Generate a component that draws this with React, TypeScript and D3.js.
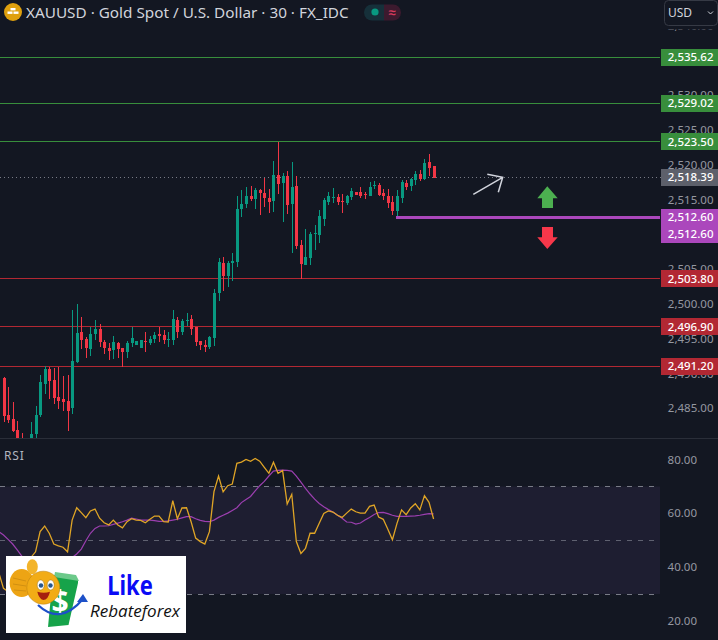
import React from "react";
import * as d3 from "d3";

const opens = [2489.57,2484.25,2483.68,2482.10,2480.51,2477.16,2479.56,2481.52,2484.25,2488.71,2490.87,2489.28,2486.84,2486.55,2486.26,2485.26,2491.87,2496.18,2495.18,2493.74,2495.90,2496.62,2494.75,2493.88,2493.60,2494.60,2493.88,2493.31,2494.60,2494.32,2493.88,2494.89,2494.60,2495.18,2495.90,2495.75,2495.03,2495.03,2497.91,2496.18,2497.77,2498.05,2496.86,2494.89,2494.32,2494.03,2495.32,2501.79,2506.10,2504.23,2506.10,2506.25,2513.87,2514.59,2515.74,2515.30,2516.60,2516.17,2515.45,2515.02,2518.75,2517.60,2518.61,2514.59,2517.17,2508.69,2505.82,2506.82,2510.27,2510.13,2512.43,2514.87,2515.45,2515.59,2515.02,2514.73,2515.59,2516.31,2516.31,2516.02,2515.74,2517.22,2517.32,2516.17,2515.74,2514.87,2513.58,2515.45,2517.60,2517.17,2518.04,2518.90,2518.18,2520.62,2520.05];
const closes = [2484.11,2483.53,2481.95,2479.80,2479.08,2479.08,2481.52,2484.25,2489.00,2490.87,2489.14,2486.70,2486.26,2486.12,2484.83,2492.02,2496.04,2495.03,2493.88,2495.90,2496.62,2494.75,2493.88,2493.45,2494.75,2493.74,2493.31,2494.60,2495.32,2494.89,2495.03,2494.70,2495.18,2495.75,2495.61,2495.03,2495.18,2498.05,2496.18,2497.77,2497.91,2496.62,2494.75,2494.32,2494.03,2495.47,2501.79,2506.25,2504.23,2506.10,2506.39,2513.87,2514.59,2515.74,2515.30,2516.60,2516.17,2515.45,2514.87,2518.75,2517.46,2518.61,2514.44,2517.03,2508.55,2505.96,2506.97,2510.27,2510.42,2512.86,2515.16,2515.74,2515.59,2514.87,2514.87,2515.74,2516.45,2515.88,2515.74,2515.93,2517.03,2517.32,2515.88,2515.74,2514.73,2513.58,2515.74,2517.75,2517.03,2518.18,2518.90,2518.18,2520.48,2519.76,2518.28];
const highs = [2489.71,2488.28,2486.12,2483.39,2481.66,2480.27,2483.25,2485.55,2490.00,2491.30,2491.15,2491.01,2491.15,2489.86,2490.00,2499.35,2500.21,2498.34,2495.47,2496.90,2497.91,2497.33,2495.03,2494.60,2495.61,2494.75,2493.88,2494.89,2496.90,2494.89,2495.03,2496.18,2495.61,2496.18,2496.90,2496.47,2496.18,2499.35,2498.34,2498.05,2498.92,2498.63,2496.90,2494.89,2495.03,2495.61,2502.37,2506.82,2506.97,2506.39,2507.54,2515.74,2516.60,2517.03,2517.17,2516.89,2516.74,2518.32,2516.74,2520.77,2523.45,2519.04,2519.33,2520.62,2518.61,2509.41,2510.99,2510.56,2511.57,2513.72,2515.45,2516.31,2516.89,2516.02,2516.02,2515.88,2516.89,2516.31,2517.03,2516.31,2517.75,2517.89,2517.60,2516.74,2516.74,2515.74,2516.60,2518.04,2518.04,2518.32,2519.33,2519.47,2521.05,2521.77,2520.05];
const lows = [2483.25,2483.10,2481.71,2479.08,2478.36,2476.68,2478.60,2480.51,2483.96,2487.27,2486.55,2485.83,2485.11,2484.83,2481.95,2484.40,2491.73,2493.74,2492.45,2492.73,2495.03,2494.03,2493.02,2492.16,2492.30,2492.45,2491.15,2492.45,2494.03,2494.32,2493.88,2493.31,2494.32,2494.60,2494.75,2494.46,2494.03,2494.32,2495.32,2495.75,2497.05,2495.75,2494.17,2493.60,2493.31,2493.74,2494.17,2500.64,2502.08,2502.65,2503.52,2505.53,2512.72,2514.01,2515.02,2513.87,2513.00,2514.15,2513.29,2513.44,2516.02,2512.00,2513.15,2507.54,2508.12,2503.76,2505.82,2505.82,2507.97,2508.98,2511.42,2514.44,2514.73,2514.44,2513.29,2514.44,2515.16,2515.88,2515.45,2515.30,2515.74,2516.74,2515.74,2515.16,2514.01,2513.00,2512.57,2514.73,2516.60,2516.45,2517.32,2517.89,2518.04,2518.61,2518.28];
const rsiValues = [37.7,32.1,30.9,34,32.7,34,37.7,43.6,45.7,53.2,55.3,52.6,48.6,47.9,47.4,45.7,57.5,62.1,60.3,58.4,60.9,61.6,58.2,56.5,55.7,57.5,55.7,54.6,56.9,58.0,57.5,57.4,56.5,57.8,59.0,59.0,56.9,56.8,64.7,58.0,62.0,62.1,56.9,50.8,49.5,48.6,53.2,68.1,73.9,68.0,70.3,70.9,78.6,79.1,80.1,79.4,80.4,79.4,77.1,74.9,79.0,74.9,75.9,63.5,67.1,49.5,45.1,47.0,52.6,52.6,56.3,60.0,60.9,60.5,59.3,58.5,60.1,61.6,60.6,60.1,60.1,62.6,63.1,58.6,57.8,54.1,50.2,56.3,61.3,59.5,62.0,63.6,61.3,66.6,64.1,57.9];
const rsiMa = [53.2,51.95,50.3,48.6,46.4,44.1,41.4,39.5,38.3,37.7,37.1,37.1,37.7,38.3,39.5,42.0,43.6,44.9,46.7,49.8,52.6,54.4,55.3,55.3,55.4,55.9,56.4,56.9,57.5,58.2,57.9,57.5,57.5,57.5,57.3,57.0,57.0,57.2,57.5,57.8,58.3,58.8,58.8,58.0,57.4,57.0,56.9,57.5,58.5,59.3,60.1,61.1,62.1,64.0,65.2,66.3,68.4,70.3,71.9,73.9,75.7,76.0,76.1,76.0,75.7,73.9,71.6,69.3,67.2,65.3,63.7,62.5,61.4,60.5,59.3,58.2,56.8,56.7,56.0,56.4,57.5,58.5,59.6,60.3,60.4,59.9,59.3,58.9,58.9,58.9,59.0,59.1,59.3,59.6,59.9,59.8];

const priceTicks = [2540, 2535, 2530, 2525, 2520, 2515, 2510, 2505, 2500, 2495, 2490, 2485];
const rsiTicks = [80, 60, 40, 20];
const rsiBands = [70, 50, 30];
const greenLevels = [2535.62, 2529.02, 2523.5];
const redLevels = [2503.8, 2496.9, 2491.2];
const lastPrice = 2518.39;
const pivotPrice = 2512.6;
const pivotStartIndex = 86;

const BG = "#131722", UP = "#089981", DOWN = "#f23645", GREEN = "#388e3c", RED = "#b22833", PURPLE = "#ab47bc";
const FONT = "'Noto Sans', sans-serif";
const fmt = d3.format(",.2f");

const x = d3.scaleLinear().domain([0, 94]).range([3.5, 433.6]);
const y = d3.scaleLinear().domain([2535.62, 2491.2]).range([57.3, 366.3]);
const yr = d3.scaleLinear().domain([70, 30]).range([486.5, 594]);
// RSI series carry one extra bar at their start, partly off the left edge.
const rsiLine = d3.line<number>().x((_, i) => x(i - 1)).y((v) => yr(v));

function PriceTag({ price, fill, dy = 0 }: { price: number; fill: string; dy?: number }) {
  const cy = y(price) + dy;
  return (
    <g>
      <rect x={661} y={cy - 8.2} width={57} height={16.6} fill={fill} shapeRendering="crispEdges" />
      <text x={713.5} y={cy - 0.5} textAnchor="end" dominantBaseline="central" fill="#fff" fontSize={11.5} fontWeight={500} fontFamily={FONT}>{fmt(price)}</text>
    </g>
  );
}

function Logo() {
  return (
    <g>
      <rect x={6} y={556} width={180} height={77} fill="#fff" />
      <polygon points="53,575 78,579 78,583 68.5,625 48,627" fill="#16a34a" />
      <polygon points="55,572 76,575 79,581 54,577" fill="#6cc98a" />
      <text x={60} y={612} textAnchor="middle" fontSize={30} fontWeight={700} fill="#fff" fontFamily={FONT}>$</text>
      <path d="M38,605 Q60,626 83,599" fill="none" stroke="#1d50c8" strokeWidth={2.2} />
      <polygon points="83,594 88,602 77,602" fill="#1d50c8" />
      <ellipse cx={21.7} cy={583} rx={12} ry={14} fill="#eda414" />
      <path d="M13,578 L26,581 M13,584 L26,586 M14,590 L26,591" stroke="#c98a10" strokeWidth={0.8} fill="none" />
      <ellipse cx={32.3} cy={566.7} rx={5.5} ry={7.5} fill="#f3b42a" />
      <circle cx={43.3} cy={587.7} r={16.5} fill="#f2ac16" stroke="#b97e10" strokeWidth={0.5} />
      <ellipse cx={40.7} cy={585} rx={3.5} ry={5} fill="#fff" stroke="#7a5a10" strokeWidth={0.4} />
      <ellipse cx={50.7} cy={585} rx={3.5} ry={5} fill="#fff" stroke="#7a5a10" strokeWidth={0.4} />
      <circle cx={41} cy={585.5} r={2.2} fill="#24578f" />
      <circle cx={50.5} cy={585.5} r={2.2} fill="#24578f" />
      <path d="M37.3,591.7 Q44,594 50,591.7 Q48,600 43.3,600 Q39,599 37.3,591.7 Z" fill="#a5200f" />
      <text x={107.3} y={595} fill="#0a0af5" fontSize={27} fontWeight={700} textLength={45.5} lengthAdjust="spacingAndGlyphs" fontFamily={FONT}>Like</text>
      <text x={90} y={616.7} fill="#111" fontSize={16} fontStyle="italic" textLength={90} lengthAdjust="spacingAndGlyphs" fontFamily="'Open Sans', sans-serif">Rebateforex</text>
    </g>
  );
}

export default function App() {
  return (
    <svg width={718} height={640} style={{ position: "absolute", left: 0, top: 0, background: BG }}>
      <defs>
        <clipPath id="pricePane"><rect x={0} y={0} width={661} height={438} /></clipPath>
        <clipPath id="rsiPane"><rect x={0} y={439} width={661} height={201} /></clipPath>
      </defs>
      <rect width={718} height={640} fill={BG} />

      {/* price axis labels */}
      {priceTicks.map((t) => (
        <text key={t} x={713.5} y={y(t) - 1.5} textAnchor="end" dominantBaseline="central" fill="#9598a1" fontSize={11.5} fontFamily={FONT}>{fmt(t)}</text>
      ))}
      <rect x={661} y={0} width={57} height={29.6} fill={BG} />

      {/* levels */}
      <line x1={0} x2={661} y1={y(lastPrice)} y2={y(lastPrice)} stroke="#787b86" strokeWidth={1} strokeDasharray="1 3" shapeRendering="crispEdges" />
      {greenLevels.map((l) => (
        <line key={l} x1={0} x2={660} y1={y(l)} y2={y(l)} stroke={GREEN} strokeWidth={1} shapeRendering="crispEdges" />
      ))}
      {redLevels.map((l) => (
        <line key={l} x1={0} x2={660} y1={y(l)} y2={y(l)} stroke={RED} strokeWidth={1} shapeRendering="crispEdges" />
      ))}

      {/* candles */}
      <g clipPath="url(#pricePane)" shapeRendering="crispEdges">
        {opens.map((o, i) => {
          const c = closes[i];
          const col = c >= o ? UP : DOWN;
          const cx = Math.round(x(i));
          const top = y(Math.max(o, c));
          const bot = y(Math.min(o, c));
          return (
            <g key={i}>
              <rect x={cx} y={y(highs[i])} width={1} height={y(lows[i]) - y(highs[i])} fill={col} />
              <rect x={cx - 1} y={top} width={3} height={Math.max(1, bot - top)} fill={col} />
            </g>
          );
        })}
      </g>

      {/* pivot line */}
      <line x1={x(pivotStartIndex) - 1} x2={660} y1={y(pivotPrice)} y2={y(pivotPrice)} stroke={PURPLE} strokeWidth={3} />

      {/* drawings */}
      <path d="M473.3,194.3 L502.7,177.3 M487.3,174.3 L502.7,177.3 L498.3,192.3" fill="none" stroke="#d1d4dc" strokeWidth={1.5} />
      <polygon points="547.3,186.3 557.7,198.3 553,198.3 553,208 542,208 542,198.3 537.3,198.3" fill="#4caf50" />
      <polygon points="542,227 553,227 553,237.3 557.7,237.3 547.3,249 537.3,237.3 542,237.3" fill="#f7374a" />

      {/* tags */}
      {greenLevels.map((l) => <PriceTag key={l} price={l} fill={GREEN} />)}
      {redLevels.map((l) => <PriceTag key={l} price={l} fill={RED} />)}
      <PriceTag price={lastPrice} fill="#5d606b" />
      <PriceTag price={pivotPrice} fill={PURPLE} />
      <PriceTag price={pivotPrice} fill={PURPLE} dy={16.8} />

      {/* separator */}
      <rect x={0} y={438} width={718} height={1} fill="#2a2e39" />

      {/* RSI pane */}
      <rect x={0} y={yr(70)} width={660} height={yr(30) - yr(70)} fill="#1e1e31" />
      {rsiBands.map((b) => (
        <line key={b} x1={0} x2={660} y1={yr(b)} y2={yr(b)} stroke={b === 50 ? "#5f6170" : "#787b86"} strokeWidth={1} strokeDasharray="5 6" shapeRendering="crispEdges" />
      ))}
      <g clipPath="url(#rsiPane)">
        <path d={rsiLine(rsiMa) ?? ""} fill="none" stroke="#9c3fb0" strokeWidth={1.2} />
        <path d={rsiLine(rsiValues) ?? ""} fill="none" stroke="#e0a526" strokeWidth={1.3} />
      </g>
      {rsiTicks.map((t) => (
        <text key={t} x={697} y={yr(t) - 0.5} textAnchor="end" dominantBaseline="central" fill="#9598a1" fontSize={11.5} fontFamily={FONT}>{t.toFixed(2)}</text>
      ))}
      <text x={4} y={455.5} dominantBaseline="central" fill="#b2b5be" fontSize={12} letterSpacing={0.8} fontFamily={FONT}>RSI</text>

      <Logo />

      {/* header */}
      <circle cx={13} cy={12} r={9} fill="#dfa00e" />
      <rect x={10.5} y={8} width={5} height={2.4} fill="#fff" />
      <rect x={7.5} y={11.5} width={5} height={2.4} fill="#fff" />
      <rect x={13.5} y={11.5} width={5} height={2.4} fill="#fff" />
      <text x={26} y={12} dominantBaseline="central" fill="#d1d4dc" fontSize={15.3} fontFamily={FONT}>XAUUSD · Gold Spot / U.S. Dollar · 30 · FX_IDC</text>
      <path d="M372,4.5 H384 V20.5 H372 A8,8 0 0 1 372,4.5 Z" fill="#16303a" />
      <path d="M384,4.5 H393 A8,8 0 0 1 393,20.5 H384 Z" fill="#3c1a2e" />
      <circle cx={375} cy={12} r={3.6} fill="#089981" />
      <text x={392} y={12} textAnchor="middle" dominantBaseline="central" fill="#d63a5c" fontSize={13} fontWeight={700} fontFamily={FONT}>≈</text>

      {/* currency button */}
      <rect x={664.5} y={0.5} width={53} height={25} rx={4} fill={BG} stroke="#363a45" />
      <text x={668} y={12.5} dominantBaseline="central" fill="#d1d4dc" fontSize={12} fontFamily={FONT}>USD</text>
      <path d="M708,11.5 L710.5,14 L713,11.5" fill="none" stroke="#d1d4dc" strokeWidth={1} />
    </svg>
  );
}
